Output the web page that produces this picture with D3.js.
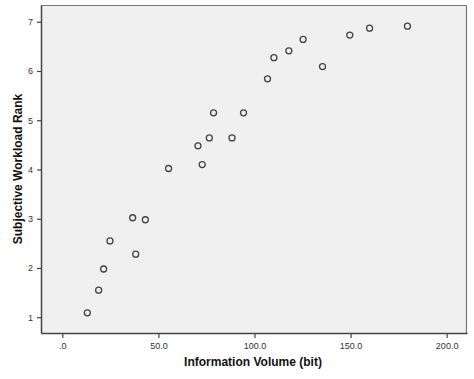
<!DOCTYPE html>
<html>
<head>
<meta charset="utf-8">
<script src="https://cdn.jsdelivr.net/npm/d3@7"></script>
<style>
html,body{margin:0;padding:0;background:#fff;}
svg{display:block;}
</style>
</head>
<body>
<svg id="chart" width="474" height="379"></svg>
<script>
const infoVolume = [13.0, 18.9, 21.5, 24.8, 36.6, 38.2, 43.2, 55.3, 70.6, 72.8, 76.5, 78.7, 88.3, 94.3, 106.8, 110.1, 117.9, 125.3, 135.4, 149.6, 159.9, 179.6];
const workloadRank = [1.09, 1.55, 1.98, 2.55, 3.02, 2.28, 2.98, 4.02, 4.48, 4.10, 4.64, 5.15, 4.64, 5.15, 5.84, 6.27, 6.41, 6.64, 6.09, 6.73, 6.87, 6.91];
const xTicks = [0, 50, 100, 150, 200];
const xTickLabels = [".0", "50.0", "100.0", "150.0", "200.0"];
const yTicks = [1, 2, 3, 4, 5, 6, 7];
const xTitle = "Information Volume (bit)";
const yTitle = "Subjective Workload Rank";

const svg = d3.select("#chart");
const L = 41, R = 467, T = 5, B = 333;

const x = d3.scaleLinear().domain([-11.1, 210.6]).range([L, R]);
const y = d3.scaleLinear().domain([0.68, 7.34]).range([B, T]);

svg.append("rect").attr("x", L).attr("y", T).attr("width", R - L).attr("height", B - T)
  .attr("fill", "#f0f0f0");
// top/right border
svg.append("path").attr("d", `M${L},${T + 0.5}H${R - 0.5}V${B}`)
  .attr("fill", "none").attr("stroke", "#777").attr("stroke-width", 1.2);

const xAxis = svg.append("g").attr("transform", `translate(0,${B})`)
  .call(d3.axisBottom(x).tickValues(xTicks).tickSize(5).tickSizeOuter(0)
    .tickFormat((d, i) => xTickLabels[i]));
const yAxis = svg.append("g").attr("transform", `translate(${L},0)`)
  .call(d3.axisLeft(y).tickValues(yTicks).tickSize(4).tickSizeOuter(0).tickFormat(d3.format("d")));

[xAxis, yAxis].forEach(g => {
  g.select(".domain").attr("stroke", "#444").attr("stroke-width", 1.5);
  g.selectAll(".tick line").attr("stroke", "#444").attr("stroke-width", 1.2);
  g.selectAll(".tick text").attr("fill", "#333").attr("font-family", "Arial, 'Liberation Sans', sans-serif").attr("font-size", 9);
});
xAxis.selectAll(".tick text").attr("dy", "0.9em");
yAxis.selectAll(".tick text").attr("dx", "-0.1em");

svg.append("g").selectAll("circle").data(infoVolume).join("circle")
  .attr("cx", d => x(d))
  .attr("cy", (d, i) => y(workloadRank[i]))
  .attr("r", 3)
  .attr("fill", "none")
  .attr("stroke", "#444")
  .attr("stroke-width", 1.3);

svg.append("text").attr("x", 253).attr("y", 366)
  .attr("text-anchor", "middle").attr("font-family", "Arial, 'Liberation Sans', sans-serif")
  .attr("font-weight", "bold").attr("font-size", 12).attr("fill", "#111").text(xTitle);

svg.append("text").attr("transform", `translate(22,${(T + B) / 2}) rotate(-90)`)
  .attr("text-anchor", "middle").attr("font-family", "Arial, 'Liberation Sans', sans-serif")
  .attr("font-weight", "bold").attr("font-size", 12).attr("fill", "#111").text(yTitle);
</script>
</body>
</html>
